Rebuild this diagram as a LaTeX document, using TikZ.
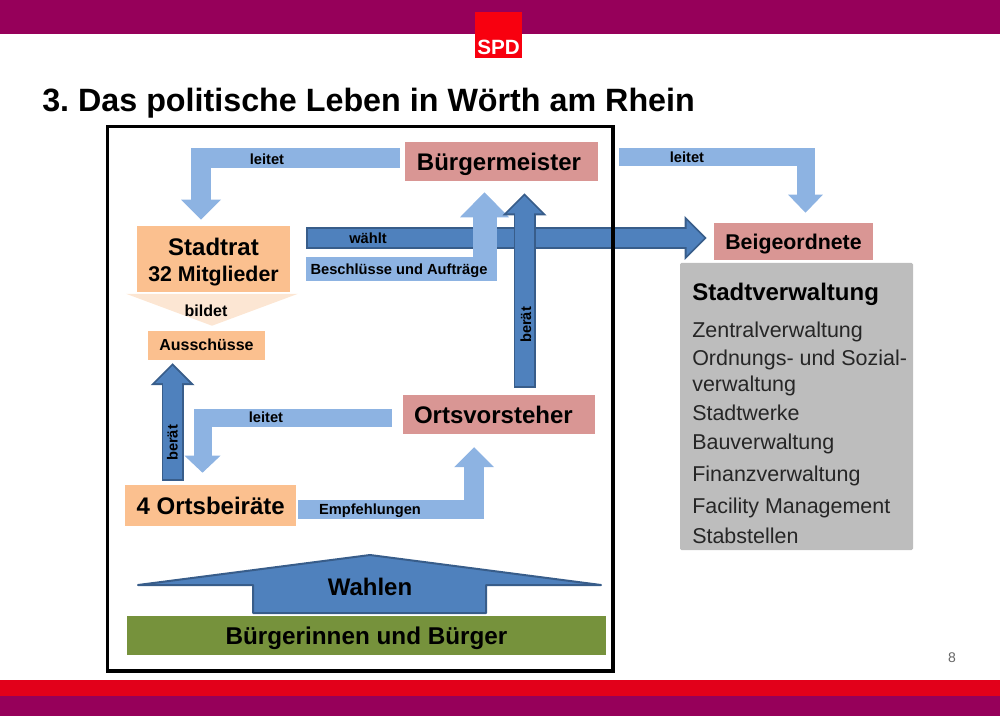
\documentclass[tikz,border=0pt]{standalone}
\usepackage{fontspec}
\setmainfont{Liberation Sans}
\usetikzlibrary{arrows.meta}
\definecolor{bandpurple}{HTML}{96005A}
\definecolor{bandred}{HTML}{E2001A}
\definecolor{spdred}{HTML}{F8000F}
\definecolor{rosebox}{HTML}{D99694}
\definecolor{orangebox}{HTML}{FBC08F}
\definecolor{palebox}{HTML}{FCE6D3}
\definecolor{greenbox}{HTML}{76923C}
\definecolor{greybox}{HTML}{BDBDBD}
\definecolor{lightblue}{HTML}{8DB3E2}
\definecolor{midblue}{HTML}{4F81BD}
\definecolor{darkblue}{HTML}{385D8A}
\newcommand{\sz}[2]{\fontsize{#1pt}{#2pt}\selectfont}
\frenchspacing
\tikzset{
  box/.style={fill=#1, inner sep=0pt, align=center, font=\bfseries},
  lbl/.style={inner sep=0pt, font=\bfseries\sz{11}{13}},
  item/.style={anchor=base west, inner sep=0pt, text=black!85, font=\sz{16.1}{20}},
  lightarrow/.style n args={3}{draw=lightblue, line width=#1,
    -{Triangle[width=#2, length=#3, line width=0pt]}},
  darkarrow/.style={draw=darkblue, line width=16.5pt,
    -{Triangle[width=33pt, length=16.5pt, line width=0pt]},
    postaction={draw=midblue, line width=14pt, shorten >=2pt, shorten <=1.3pt,
      -{Triangle[width=26pt, length=13pt, line width=0pt]}}}
}
\begin{document}
\begin{tikzpicture}[x=0.75pt, y=-0.75pt]
    \useasboundingbox (0,0) rectangle (1000,716);

    % Slide bands and logo
    \fill[bandpurple] (0,0) rectangle (1000,34);
    \fill[bandred] (0,680) rectangle (1000,696);
    \fill[bandpurple] (0,696) rectangle (1000,716);
    \node[fill=spdred, minimum width=35.25pt, minimum height=34.5pt, inner sep=0pt] (logo) at (498.5,35) {};
    \node[anchor=base, inner sep=0pt, text=white, font=\bfseries\sz{15.5}{17}] (logotext) at (498.5,55) {SPD};

    % Title and page number
    \node[anchor=base west, inner sep=0pt, font=\bfseries\sz{24.2}{28}] (title) at (42,111.5) {3. Das politische Leben in Wörth am Rhein};
    \node[inner sep=0pt, text=black!60, font=\sz{10.5}{12}] (page) at (952,658) {8};

    % Boxes
    \node[box=rosebox, minimum height=29.25pt, inner xsep=8.6pt, text width=127.2pt, align=left, text depth=0pt, font=\bfseries\sz{18}{21}] (bm) at (501.75,161.5) {Bürgermeister};
    \node[box=rosebox, minimum width=119.25pt, minimum height=27.75pt, text depth=0pt, font=\bfseries\sz{16}{19}] (beig) at (793.5,241.5) {Beigeordnete};
    \node[box=orangebox, minimum width=114.75pt, minimum height=49.5pt] (rat) at (213.5,259)
        {\sz{18}{20}\rule{0pt}{17.5pt}Stadtrat\\[7pt]\sz{16}{20}32 Mitglieder};
    \node[box=orangebox, minimum width=87.75pt, minimum height=22.1pt, font=\bfseries\sz{12}{14}] (aus) at (206.5,345.25) {Ausschüsse};
    \node[box=rosebox, minimum height=29.6pt, inner xsep=8.25pt, text width=127.5pt, align=left, font=\bfseries\sz{18}{21}] (ov) at (499,414.75) {Ortsvorsteher};
    \node[box=orangebox, minimum width=128.6pt, minimum height=30.4pt, font=\bfseries\sz{18}{21}] (beirat) at (210.75,505.75) {4 Ortsbeiräte};
    \node[box=greenbox, minimum width=359.25pt, minimum height=29.6pt, text depth=0pt, font=\bfseries\sz{18.2}{21}] (buerger) at (366.5,635.75) {Bürgerinnen und Bürger};

    % Stadtverwaltung
    \node[fill=greybox, rounded corners=1pt, minimum width=174.75pt, minimum height=215.25pt] (verw) at (796.5,406.5) {};
    \node[item, font=\bfseries\sz{18}{21}, text=black] (verw0) at (692,301) {Stadtverwaltung};
    \foreach \i/\y/\t in {1/338/Zentralverwaltung, 2/366/Ordnungs- und Sozial-, 3/392/verwaltung, 4/421/Stadtwerke,
        5/450/Bauverwaltung, 6/482/Finanzverwaltung, 7/513/Facility Management, 8/543/Stabstellen}
        \node[item] (verw\i) at (692,\y) {\t};

    % Pale arrow from Stadtrat to Ausschuesse
    \fill[palebox] ([shift={(-87.5,1.5)}]rat.south) -- ([shift={(84.5,1.5)}]rat.south) -- ([shift={(5.5,-4.5)}]aus.north) -- cycle;
    \node[lbl, font=\bfseries\sz{12}{14}] (bildet) at (206,311) {bildet};

    % Light arrows
    \draw[lightarrow={15pt}{30pt}{15pt}] ([shift={(-5.5,-3.5)}]bm.west) -| ([shift={(-12.5,-6)}]rat.north);
    \draw[lightarrow={13.5pt}{26pt}{13.5pt}] ([shift={(21,-4.5)}]bm.east) -| ([shift={(12,-10)}]beig.north);
    \draw[lightarrow={13.5pt}{27pt}{12.75pt}] ([shift={(-11,3.25)}]ov.west) -| ([shift={(-8.25,-12.5)}]beirat.north);
    \draw[lightarrow={14.6pt}{30pt}{15pt}] ([shift={(1.5,3.75)}]beirat.east) -| ([shift={(-25,12.5)}]ov.south);

    % Dark arrows
    \draw[darkarrow] ([shift={(16,-21)}]rat.east) -- ([shift={(-7,-3.5)}]beig.west);
    \draw[lightarrow={18pt}{36.75pt}{18.75pt}] ([shift={(15.5,10)}]rat.east) -| ([shift={(-17.25,11)}]bm.south);
    \draw[darkarrow] ([shift={(25.5,-7)}]ov.north) -- ([shift={(22.75,12)}]bm.south);
    \draw[darkarrow] ([shift={(-38.25,-4.5)}]beirat.north) -- ([shift={(-34,3)}]aus.south);

    % Frame
    \draw[line width=2.6pt] (107.5,126.5) rectangle (613,671);

    % Wahlen
    \draw[draw=darkblue, fill=midblue, line width=1.5pt, line join=round] (253,613) -- (253,585) -- (138,585) -- (370,555)
        -- (601,585) -- (486,585) -- (486,613) -- cycle;
    \node[inner sep=0pt, font=\bfseries\sz{18}{21}] (wahlen) at (370,587) {Wahlen};

    % Arrow labels
    \node[lbl] (leitet1) at (267,159) {leitet};
    \node[lbl] (leitet2) at (687,157) {leitet};
    \node[lbl] (leitet3) at (266,417) {leitet};
    \node[lbl] (waehlt) at (368,238) {wählt};
    \node[lbl] (beschl) at (399,271) {Beschlüsse und Aufträge};
    \node[lbl] (empf) at (370,511) {Empfehlungen};
    \node[lbl, rotate=90] (berat1) at (526,325) {berät};
    \node[lbl, rotate=90] (berat2) at (172.5,443) {berät};
\end{tikzpicture}
\end{document}
